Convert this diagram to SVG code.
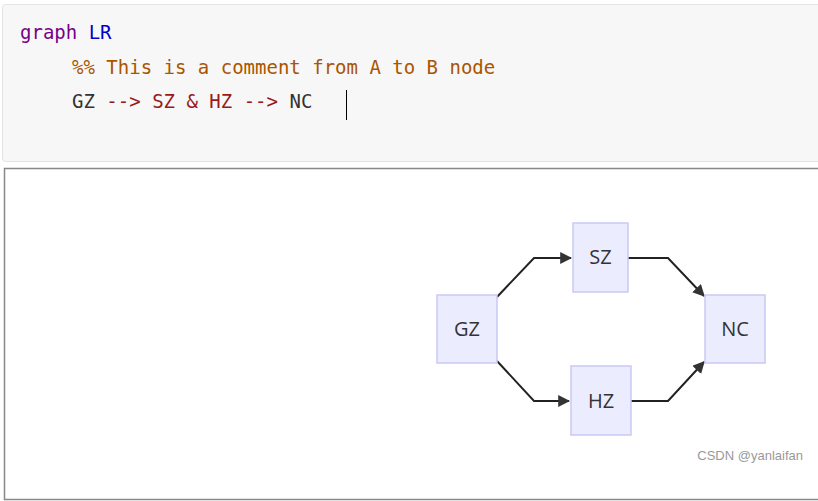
<svg xmlns="http://www.w3.org/2000/svg" width="818" height="501" viewBox="0 0 818 501">
<style>
.code{font-family:"DejaVu Sans Mono","Liberation Mono",monospace;font-size:19px}
.node rect{fill:#ececff;stroke:#c9c9f3;stroke-width:1.5}
.node text{font-family:"Open Sans","Liberation Sans",sans-serif;font-size:20px;fill:#333;text-anchor:middle}
.edge{fill:none;stroke:#222;stroke-width:2;marker-end:url(#arr)}
</style>
<defs><marker id="arr" viewBox="0 0 10 10" refX="9" refY="5" markerWidth="6" markerHeight="6" orient="auto" markerUnits="strokeWidth"><path d="M0,0L10,5L0,10z" fill="#333"/></marker></defs>
<rect x="0" y="0" width="818" height="501" fill="#fff"/>
<rect x="2.5" y="4.5" width="820" height="157" rx="3" fill="#f7f7f8" stroke="#e3e3e3"/>
<text class="code" x="20" y="39"><tspan fill="#770088">graph</tspan> <tspan fill="#0000cc">LR</tspan></text>
<text class="code" x="72" y="74" fill="#aa5500">%% This is a comment from A to B node</text>
<text class="code" x="72" y="108"><tspan fill="#333">GZ</tspan> <tspan fill="#981a1a">--&gt;</tspan> <tspan fill="#981a1a">SZ &amp; HZ</tspan> <tspan fill="#981a1a">--&gt;</tspan> <tspan fill="#333">NC</tspan></text>
<line x1="346.5" y1="90" x2="346.5" y2="120" stroke="#000"/>
<rect x="4.5" y="168.5" width="820" height="331" fill="#fff" stroke="#888" stroke-width="1.5"/>
<g id="connectors">
<path class="edge" d="M497,297L534,258L571,258"/>
<path class="edge" d="M497,361L534,401L569,401"/>
<path class="edge" d="M628,258L668,258L704,296"/>
<path class="edge" d="M631,401L668,401L704,362"/>
</g>
<g id="GZ" class="node"><rect x="437" y="295" width="60" height="68"/><text x="467" y="336">GZ</text></g>
<g id="SZ" class="node"><rect x="573" y="223" width="55" height="69"/><text x="600.5" y="264">SZ</text></g>
<g id="HZ" class="node"><rect x="571" y="366" width="60" height="69"/><text x="601" y="408">HZ</text></g>
<g id="NC" class="node"><rect x="705" y="295" width="60" height="68"/><text x="735" y="336">NC</text></g>
<text x="803" y="460" text-anchor="end" font-family="Liberation Sans,sans-serif" font-size="13" fill="#999">CSDN @yanlaifan</text>
</svg>
